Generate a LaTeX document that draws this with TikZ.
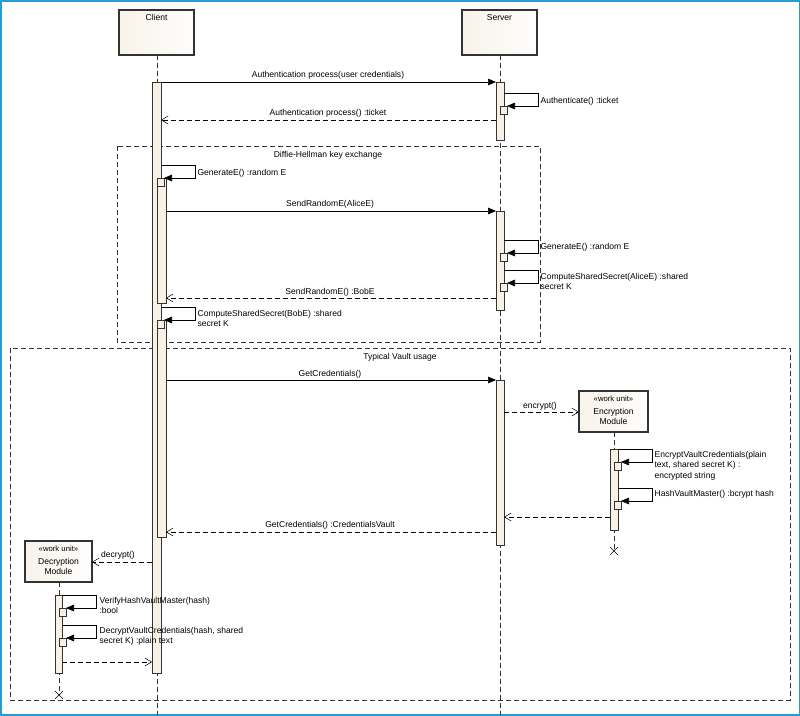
\documentclass[tikz,border=0pt]{standalone}
\usepackage{fontspec}
\setmainfont{Liberation Sans}
\usetikzlibrary{arrows.meta}
\definecolor{boxfill}{HTML}{F3EBDD}
\definecolor{barfill}{HTML}{F8F1E5}
\definecolor{edgeblue}{HTML}{2A9AD4}
\tikzset{
	lbl/.style={font=\fontsize{6.4}{7.6}\selectfont, inner sep=1pt},
	lblleft/.style={lbl, anchor=north west, align=left},
	actor/.style={draw=black!80, left color=boxfill!60, right color=boxfill!100!black!8, line width=0.8pt},
	bar/.style={draw=black!80, fill=barfill, line width=0.6pt},
	life/.style={dashed, dash pattern=on 4pt off 2pt, black!80},
	frm/.style={dashed, dash pattern=on 4pt off 2pt, black!80},
	call/.style={-{Triangle[length=6pt,width=5pt]}, black},
	reply/.style={dashed, dash pattern=on 4pt off 2pt, -{Straight Barb[length=5pt,width=6pt]}, black}
}
\newcommand{\selfmsg}[3]{% bar x, top y, box x
	\draw[call] (#1,#2) -- ++(34,0) -- ++(0,13) -- (#3+7,#2+13);
	\draw[bar] (#3,#2+13) rectangle (#3+7,#2+21);
}
\begin{document}
\begin{tikzpicture}[x=0.75pt,y=-0.75pt]
	\useasboundingbox (0,0) rectangle (800,715);
	\draw[edgeblue, line width=1.5pt] (0.5,0.5) rectangle (799.5,714.5);

	% participants
	\draw[actor] (119,10) rectangle (194,55);
	\node[lbl, anchor=north] (client) at (156.5,13) {Client};
	\draw[actor] (462,10) rectangle (537,55);
	\node[lbl, anchor=north] (server) at (499.5,13) {Server};
	\draw[life] (157,55) -- (157,715);
	\draw[life] (500,55) -- (500,715);

	% frames
	\draw[frm] (117,146) rectangle (540,342);
	\node[lbl] (dhlbl) at (328,155) {Diffie-Hellman key exchange};
	\draw[frm] (10,348) rectangle (790,700);
	\node[lbl] (vaultlbl) at (400,357) {Typical Vault usage};

	% activations
	\draw[bar] (152,82) rectangle (161,673);
	\draw[bar] (157,178) rectangle (166,303);
	\draw[bar] (157,320) rectangle (166,537);
	\draw[bar] (496,82) rectangle (504,140);
	\draw[bar] (496,211) rectangle (504,310);
	\draw[bar] (496,380) rectangle (504,545);

	% authentication
	\draw[call] (161,82) -- (496,82);
	\node[lbl] (auth) at (328,75) {Authentication process(user credentials)};
	\selfmsg{504}{93}{500}
	\node[lblleft] (authself) at (539,96) {Authenticate() :ticket};
	\draw[reply] (496,120) -- (161,120);
	\node[lbl] (authret) at (328,113) {Authentication process() :ticket};

	% key exchange
	\selfmsg{161}{165}{157}
	\node[lblleft] (gen1) at (196,168) {GenerateE() :random E};
	\draw[call] (166,211) -- (496,211);
	\node[lbl] (send) at (330,204) {SendRandomE(AliceE)};
	\selfmsg{504}{240}{500}
	\node[lblleft] (gen2) at (539,242) {GenerateE() :random E};
	\selfmsg{504}{270}{500}
	\node[lblleft] (comp2) at (539,272) {ComputeSharedSecret(AliceE) :shared\\secret K};
	\draw[reply] (496,298) -- (166,298);
	\node[lbl] (sendret) at (330,292) {SendRandomE() :BobE};
	\selfmsg{161}{307}{157}
	\node[lblleft] (comp1) at (196,309) {ComputeSharedSecret(BobE) :shared\\secret K};

	% vault usage
	\draw[call] (166,380) -- (496,380);
	\node[lbl] (getc) at (330,374) {GetCredentials()};
	\draw[actor] (579,391) rectangle (648,432);
	\node[lbl, align=center, anchor=north] (encmod) at (613.5,394) {\fontsize{5.8}{6.8}\selectfont«work unit»\\[2pt]Encryption\\Module};
	\draw[reply] (504,412) -- (579,412);
	\node[lbl] (enc) at (540,406) {encrypt()};
	\draw[life] (614,432) -- (614,551);
	\draw[bar] (610,449) rectangle (618,530);
	\selfmsg{618}{449}{614}
	\node[lblleft] (encself) at (653,450) {EncryptVaultCredentials(plain\\text, shared secret K) :\\encrypted string};
	\selfmsg{618}{488}{614}
	\node[lblleft] (hashself) at (653,489) {HashVaultMaster() :bcrypt hash};
	\draw[reply] (610,517) -- (504,517);
	\draw (610,547) -- (618,555) (618,547) -- (610,555);
	\draw[reply] (496,532) -- (166,532);
	\node[lbl] (getret) at (330,525) {GetCredentials() :CredentialsVault};

	% decryption
	\draw[actor] (25,541) rectangle (92,582);
	\node[lbl, align=center, anchor=north] (decmod) at (58.5,544) {\fontsize{5.8}{6.8}\selectfont«work unit»\\[2pt]Decryption\\Module};
	\draw[reply] (152,562) -- (92,562);
	\node[lbl] (dec) at (118,555) {decrypt()};
	\draw[life] (59,582) -- (59,695);
	\draw[bar] (55,595) rectangle (62,673);
	\selfmsg{62}{595}{59}
	\node[lblleft] (verself) at (98,596) {VerifyHashVaultMaster(hash)\\:bool};
	\selfmsg{62}{625}{59}
	\node[lblleft] (decself) at (98,626) {DecryptVaultCredentials(hash, shared\\secret K) :plain text};
	\draw[reply] (62,662) -- (152,662);
	\draw (55,691) -- (63,699) (63,691) -- (55,699);
\end{tikzpicture}
\end{document}
